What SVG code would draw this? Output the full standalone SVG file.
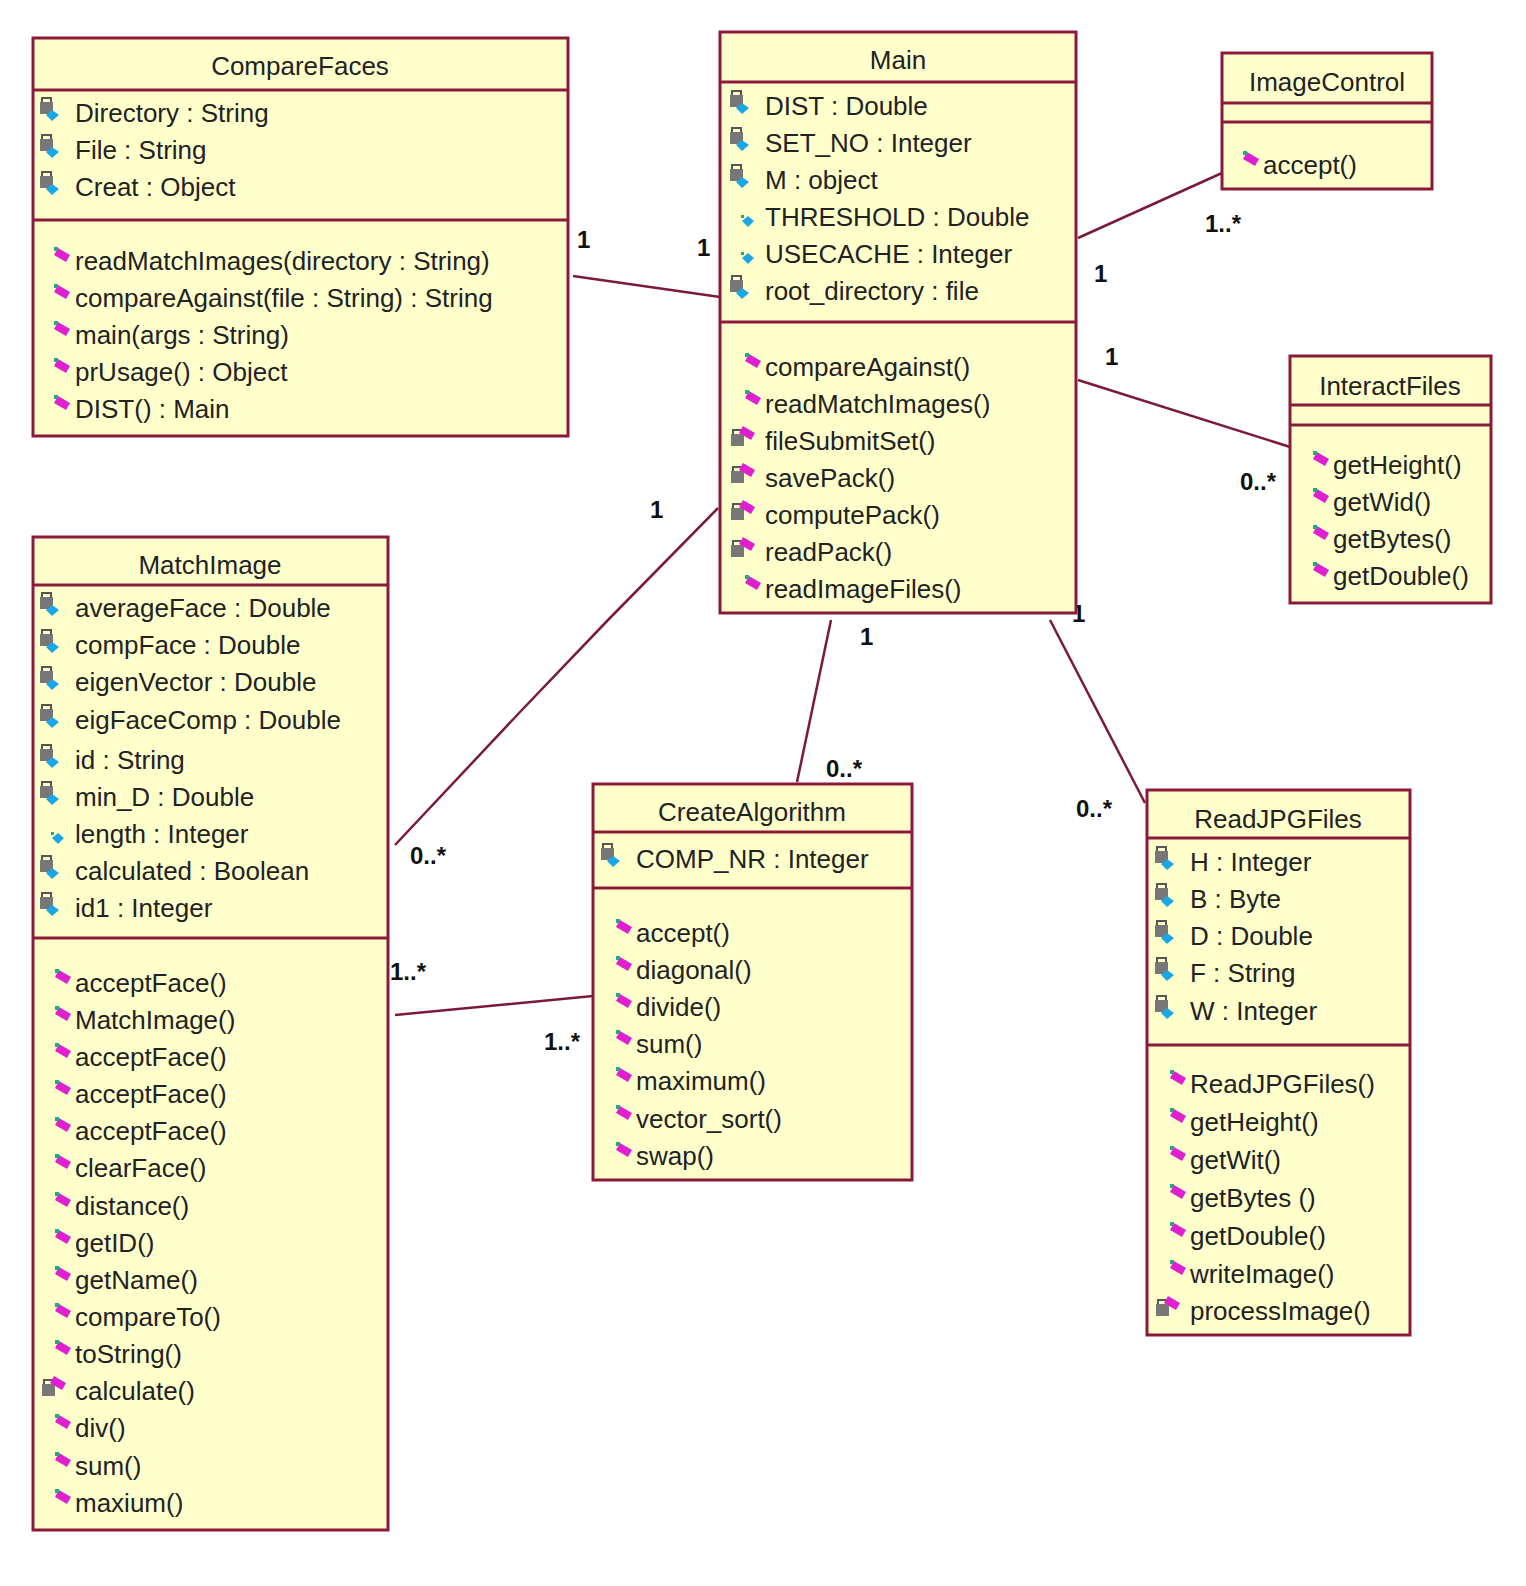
<svg xmlns="http://www.w3.org/2000/svg" xmlns:xlink="http://www.w3.org/1999/xlink" width="1526" height="1586" viewBox="0 0 1526 1586">
<style>
.box{fill:#FFFFCC;stroke:#8B1A3A;stroke-width:3}
.dv{stroke:#8B1A3A;stroke-width:3}
.t{font-family:"Liberation Sans",Arial,sans-serif;font-size:26px;fill:#222}
.c{text-anchor:middle}
.ln{fill:none;stroke:#7A1A3A;stroke-width:2.5}
.m{font-family:"Liberation Sans",Arial,sans-serif;font-size:24px;font-weight:bold;fill:#111}
</style>
<defs>
<g id="pa"><rect x="-2" y="-20" width="13" height="12" fill="#777"/><path d="M0,-20 v-4 h9 v4" fill="none" stroke="#555" stroke-width="2"/><path d="M10,-12 l7,5 -7,6 -6,-6z" fill="#1AA7E8"/></g>
<g id="pu"><path d="M10,-14 l6,5 -6,6 -6,-6z" fill="#1AA7E8"/><rect x="3" y="-15" width="3" height="3" fill="#2A8"/></g>
<g id="me"><path d="M6,-22 l12,7 -4,7 -12,-7z" fill="#E020D0"/><rect x="2" y="-23" width="4" height="4" fill="#2A8"/></g>
<g id="pm"><rect x="-4" y="-16" width="13" height="12" fill="#777"/><path d="M-2,-16 v-4 h9 v4" fill="none" stroke="#555" stroke-width="2"/><path d="M8,-24 l12,7 -4,7 -12,-7z" fill="#E020D0"/></g>
</defs>
<g id="connectors">
<line class="ln" x1="573" y1="276" x2="720" y2="297"/>
<line class="ln" x1="1078" y1="238" x2="1222" y2="173"/>
<line class="ln" x1="1078" y1="380" x2="1290" y2="447"/>
<polyline class="ln" points="718,508 608,620 520,712 395,845"/>
<line class="ln" x1="831" y1="620" x2="797" y2="782"/>
<line class="ln" x1="1050" y1="620" x2="1145" y2="803"/>
<line class="ln" x1="395" y1="1015" x2="593" y2="996"/>
<text class="m" x="577" y="248">1</text><text class="m" x="697" y="256">1</text>
<text class="m" x="1094" y="282">1</text><text class="m" x="1205" y="232">1..*</text>
<text class="m" x="1105" y="365">1</text><text class="m" x="1240" y="490">0..*</text>
<text class="m" x="650" y="518">1</text><text class="m" x="410" y="864">0..*</text>
<text class="m" x="860" y="645">1</text><text class="m" x="826" y="777">0..*</text>
<text class="m" x="1072" y="622">1</text><text class="m" x="1076" y="817">0..*</text>
<text class="m" x="390" y="980">1..*</text><text class="m" x="544" y="1050">1..*</text>
</g>
<g id="CompareFaces">
<rect class="box" x="33" y="38" width="535" height="398"/>
<line class="dv" x1="33" y1="90" x2="568" y2="90"/><line class="dv" x1="33" y1="220" x2="568" y2="220"/>
<text class="t c" x="300" y="75">CompareFaces</text>
<use href="#pa" x="42" y="122"/><text class="t" x="75" y="122">Directory : String</text>
<use href="#pa" x="42" y="159"/><text class="t" x="75" y="159">File : String</text>
<use href="#pa" x="42" y="196"/><text class="t" x="75" y="196">Creat : Object</text>
<use href="#me" x="52" y="270"/><text class="t" x="75" y="270">readMatchImages(directory : String)</text>
<use href="#me" x="52" y="307"/><text class="t" x="75" y="307">compareAgainst(file : String) : String</text>
<use href="#me" x="52" y="344"/><text class="t" x="75" y="344">main(args : String)</text>
<use href="#me" x="52" y="381"/><text class="t" x="75" y="381">prUsage() : Object</text>
<use href="#me" x="52" y="418"/><text class="t" x="75" y="418">DIST() : Main</text>
</g>
<g id="Main">
<rect class="box" x="720" y="32" width="356" height="581"/>
<line class="dv" x1="720" y1="82" x2="1076" y2="82"/><line class="dv" x1="720" y1="322" x2="1076" y2="322"/>
<text class="t c" x="898" y="69">Main</text>
<use href="#pa" x="732" y="115"/><text class="t" x="765" y="115">DIST : Double</text>
<use href="#pa" x="732" y="152"/><text class="t" x="765" y="152">SET_NO : Integer</text>
<use href="#pa" x="732" y="189"/><text class="t" x="765" y="189">M : object</text>
<use href="#pu" x="738" y="230"/><text class="t" x="765" y="226">THRESHOLD : Double</text>
<use href="#pu" x="738" y="267"/><text class="t" x="765" y="263">USECACHE : Integer</text>
<use href="#pa" x="732" y="300"/><text class="t" x="765" y="300">root_directory : file</text>
<use href="#me" x="743" y="376"/><text class="t" x="765" y="376">compareAgainst()</text>
<use href="#me" x="743" y="413"/><text class="t" x="765" y="413">readMatchImages()</text>
<use href="#pm" x="735" y="450"/><text class="t" x="765" y="450">fileSubmitSet()</text>
<use href="#pm" x="735" y="487"/><text class="t" x="765" y="487">savePack()</text>
<use href="#pm" x="735" y="524"/><text class="t" x="765" y="524">computePack()</text>
<use href="#pm" x="735" y="561"/><text class="t" x="765" y="561">readPack()</text>
<use href="#me" x="743" y="598"/><text class="t" x="765" y="598">readImageFiles()</text>
</g>
<g id="ImageControl">
<rect class="box" x="1222" y="53" width="210" height="136"/>
<line class="dv" x1="1222" y1="103" x2="1432" y2="103"/><line class="dv" x1="1222" y1="122" x2="1432" y2="122"/>
<text class="t c" x="1327" y="91">ImageControl</text>
<use href="#me" x="1241" y="174"/><text class="t" x="1263" y="174">accept()</text>
</g>
<g id="InteractFiles">
<rect class="box" x="1290" y="356" width="201" height="247"/>
<line class="dv" x1="1290" y1="405" x2="1491" y2="405"/><line class="dv" x1="1290" y1="425" x2="1491" y2="425"/>
<text class="t c" x="1390" y="395">InteractFiles</text>
<use href="#me" x="1311" y="474"/><text class="t" x="1333" y="474">getHeight()</text>
<use href="#me" x="1311" y="511"/><text class="t" x="1333" y="511">getWid()</text>
<use href="#me" x="1311" y="548"/><text class="t" x="1333" y="548">getBytes()</text>
<use href="#me" x="1311" y="585"/><text class="t" x="1333" y="585">getDouble()</text>
</g>
<g id="MatchImage">
<rect class="box" x="33" y="537" width="355" height="993"/>
<line class="dv" x1="33" y1="585" x2="388" y2="585"/><line class="dv" x1="33" y1="938" x2="388" y2="938"/>
<text class="t c" x="210" y="574">MatchImage</text>
<use href="#pa" x="42" y="617"/><text class="t" x="75" y="617">averageFace : Double</text>
<use href="#pa" x="42" y="654"/><text class="t" x="75" y="654">compFace : Double</text>
<use href="#pa" x="42" y="691"/><text class="t" x="75" y="691">eigenVector : Double</text>
<use href="#pa" x="42" y="729"/><text class="t" x="75" y="729">eigFaceComp : Double</text>
<use href="#pa" x="42" y="769"/><text class="t" x="75" y="769">id : String</text>
<use href="#pa" x="42" y="806"/><text class="t" x="75" y="806">min_D : Double</text>
<use href="#pu" x="48" y="847"/><text class="t" x="75" y="843">length : Integer</text>
<use href="#pa" x="42" y="880"/><text class="t" x="75" y="880">calculated : Boolean</text>
<use href="#pa" x="42" y="917"/><text class="t" x="75" y="917">id1 : Integer</text>
<use href="#me" x="53" y="992"/><text class="t" x="75" y="992">acceptFace()</text>
<use href="#me" x="53" y="1029"/><text class="t" x="75" y="1029">MatchImage()</text>
<use href="#me" x="53" y="1066"/><text class="t" x="75" y="1066">acceptFace()</text>
<use href="#me" x="53" y="1103"/><text class="t" x="75" y="1103">acceptFace()</text>
<use href="#me" x="53" y="1140"/><text class="t" x="75" y="1140">acceptFace()</text>
<use href="#me" x="53" y="1177"/><text class="t" x="75" y="1177">clearFace()</text>
<use href="#me" x="53" y="1215"/><text class="t" x="75" y="1215">distance()</text>
<use href="#me" x="53" y="1252"/><text class="t" x="75" y="1252">getID()</text>
<use href="#me" x="53" y="1289"/><text class="t" x="75" y="1289">getName()</text>
<use href="#me" x="53" y="1326"/><text class="t" x="75" y="1326">compareTo()</text>
<use href="#me" x="53" y="1363"/><text class="t" x="75" y="1363">toString()</text>
<use href="#pm" x="46" y="1400"/><text class="t" x="75" y="1400">calculate()</text>
<use href="#me" x="53" y="1437"/><text class="t" x="75" y="1437">div()</text>
<use href="#me" x="53" y="1475"/><text class="t" x="75" y="1475">sum()</text>
<use href="#me" x="53" y="1512"/><text class="t" x="75" y="1512">maxium()</text>
</g>
<g id="CreateAlgorithm">
<rect class="box" x="593" y="784" width="319" height="396"/>
<line class="dv" x1="593" y1="832" x2="912" y2="832"/><line class="dv" x1="593" y1="888" x2="912" y2="888"/>
<text class="t c" x="752" y="821">CreateAlgorithm</text>
<use href="#pa" x="603" y="868"/><text class="t" x="636" y="868">COMP_NR : Integer</text>
<use href="#me" x="614" y="942"/><text class="t" x="636" y="942">accept()</text>
<use href="#me" x="614" y="979"/><text class="t" x="636" y="979">diagonal()</text>
<use href="#me" x="614" y="1016"/><text class="t" x="636" y="1016">divide()</text>
<use href="#me" x="614" y="1053"/><text class="t" x="636" y="1053">sum()</text>
<use href="#me" x="614" y="1090"/><text class="t" x="636" y="1090">maximum()</text>
<use href="#me" x="614" y="1128"/><text class="t" x="636" y="1128">vector_sort()</text>
<use href="#me" x="614" y="1165"/><text class="t" x="636" y="1165">swap()</text>
</g>
<g id="ReadJPGFiles">
<rect class="box" x="1147" y="790" width="263" height="545"/>
<line class="dv" x1="1147" y1="838" x2="1410" y2="838"/><line class="dv" x1="1147" y1="1045" x2="1410" y2="1045"/>
<text class="t c" x="1278" y="828">ReadJPGFiles</text>
<use href="#pa" x="1157" y="871"/><text class="t" x="1190" y="871">H : Integer</text>
<use href="#pa" x="1157" y="908"/><text class="t" x="1190" y="908">B : Byte</text>
<use href="#pa" x="1157" y="945"/><text class="t" x="1190" y="945">D : Double</text>
<use href="#pa" x="1157" y="982"/><text class="t" x="1190" y="982">F : String</text>
<use href="#pa" x="1157" y="1020"/><text class="t" x="1190" y="1020">W : Integer</text>
<use href="#me" x="1168" y="1093"/><text class="t" x="1190" y="1093">ReadJPGFiles()</text>
<use href="#me" x="1168" y="1131"/><text class="t" x="1190" y="1131">getHeight()</text>
<use href="#me" x="1168" y="1169"/><text class="t" x="1190" y="1169">getWit()</text>
<use href="#me" x="1168" y="1207"/><text class="t" x="1190" y="1207">getBytes ()</text>
<use href="#me" x="1168" y="1245"/><text class="t" x="1190" y="1245">getDouble()</text>
<use href="#me" x="1168" y="1283"/><text class="t" x="1190" y="1283">writeImage()</text>
<use href="#pm" x="1160" y="1320"/><text class="t" x="1190" y="1320">processImage()</text>
</g>
</svg>
